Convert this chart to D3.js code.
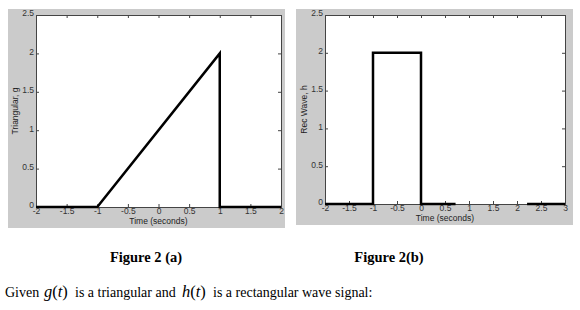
<!DOCTYPE html>
<html>
<head>
<meta charset="utf-8">
<script src="https://cdn.jsdelivr.net/npm/d3@7"></script>
<style>
  body { margin: 0; background: #fff; }
  svg { display: block; }
</style>
</head>
<body>
<svg id="fig" width="580" height="310"></svg>
<script>
// data
const triT = [-2, -1, 1, 1, 2];
const triG = [0, 0, 2, 0, 0];
const recT = [-2, -1, -1, 0, 0, 0.72];
const recH = [0, 0, 2, 2, 0, 0];
const recTailT = [2.21, 3];
const recTailH = [0, 0];
const triXTicks = [-2, -1.5, -1, -0.5, 0, 0.5, 1, 1.5, 2];
const recXTicks = [-2, -1.5, -1, -0.5, 0, 0.5, 1, 1.5, 2, 2.5, 3];
const yTicks = [0, 0.5, 1, 1.5, 2, 2.5];

const svg = d3.select("#fig");
const sans = "Liberation Sans, Arial, sans-serif";
const serif = "Liberation Serif, Times New Roman, serif";

function panel(opt) {
  const g = svg.append("g");
  // grey figure background
  g.append("rect")
    .attr("x", opt.bg[0]).attr("y", opt.bg[1])
    .attr("width", opt.bg[2] - opt.bg[0]).attr("height", opt.bg[3] - opt.bg[1])
    .attr("fill", "#cbcbcb");

  const x = d3.scaleLinear().domain(opt.xDomain).range([opt.left, opt.right]);
  const y = d3.scaleLinear().domain([0, 2.5]).range([opt.bottom, opt.top]);

  g.append("rect")
    .attr("x", opt.left).attr("y", opt.top)
    .attr("width", opt.right - opt.left).attr("height", opt.bottom - opt.top)
    .attr("fill", "#fff");

  // matlab style labels use a plain hyphen
  const fmt = d => String(d);

  const axB = g.append("g").attr("transform", `translate(0,${opt.bottom})`)
    .call(d3.axisBottom(x).tickValues(opt.xTicks).tickSize(-3).tickPadding(1).tickFormat(fmt));
  const axT = g.append("g").attr("transform", `translate(0,${opt.top})`)
    .call(d3.axisTop(x).tickValues(opt.xTicks).tickSize(-3).tickFormat(""));
  const axL = g.append("g").attr("transform", `translate(${opt.left},0)`)
    .call(d3.axisLeft(y).tickValues(yTicks).tickSize(-3).tickPadding(2).tickFormat(fmt));
  const axR = g.append("g").attr("transform", `translate(${opt.right},0)`)
    .call(d3.axisRight(y).tickValues(yTicks).tickSize(-3).tickFormat(""));

  [axB, axT, axL, axR].forEach(a => {
    a.select(".domain").attr("stroke", "#444").attr("stroke-width", 1);
    a.selectAll(".tick line").attr("stroke", "#444");
    a.selectAll("text")
      .attr("fill", "#333")
      .style("font-family", sans)
      .style("font-size", "8.5px");
  });
  axB.selectAll("text").attr("dy", "0.75em");
  axL.selectAll("text").attr("dy", "0.1em");

  const line = d3.line().x(d => x(d[0])).y(d => y(d[1]));
  opt.series.forEach(s => {
    g.append("path")
      .datum(d3.zip(s[0], s[1]))
      .attr("d", line)
      .attr("fill", "none")
      .attr("stroke", "#000")
      .attr("stroke-width", 2.5)
      .attr("stroke-linejoin", "miter");
  });

  g.append("text")
    .attr("x", (opt.left + opt.right) / 2).attr("y", opt.bottom + 17)
    .attr("text-anchor", "middle")
    .style("font-family", sans)
    .style("font-size", "8.5px").attr("fill", "#222")
    .text("Time (seconds)");

  g.append("text")
    .attr("transform", `translate(${opt.yLabelX},${(opt.top + opt.bottom) / 2}) rotate(-90)`)
    .attr("text-anchor", "middle")
    .style("font-family", sans)
    .style("font-size", "8.5px").attr("fill", "#222")
    .text(opt.yLabel);

  svg.append("text")
    .attr("x", opt.capX).attr("y", 262)
    .attr("text-anchor", "middle")
    .style("font-family", serif)
    .style("font-weight", "bold").style("font-size", "14.5px")
    .text(opt.caption);
}

panel({
  bg: [8, 9, 285, 228], left: 36, right: 281, top: 15, bottom: 207,
  xDomain: [-2, 2], xTicks: triXTicks,
  series: [[triT, triG]],
  yLabel: "Triangular, g", yLabelX: 18,
  caption: "Figure 2 (a)", capX: 146
});

panel({
  bg: [296, 9, 573, 225], left: 325, right: 565, top: 15, bottom: 204,
  xDomain: [-2, 3], xTicks: recXTicks,
  series: [[recT, recH], [recTailT, recTailH]],
  yLabel: "Rec Wave, h", yLabelX: 307,
  caption: "Figure 2(b)", capX: 389
});

// sentence below the figures
function mathFn(parent, x, name) {
  const t = parent.append("tspan").attr("x", x).style("font-size", "16.5px");
  t.append("tspan").style("font-style", "italic").text(name);
  t.append("tspan").text("(");
  t.append("tspan").style("font-style", "italic").text("t");
  t.append("tspan").text(")");
}
const sentence = svg.append("text")
  .attr("y", 297)
  .style("font-family", serif).style("font-size", "14px");
sentence.append("tspan").attr("x", 5).text("Given");
mathFn(sentence, 44, "g");
sentence.append("tspan").attr("x", 75).text("is a triangular and");
mathFn(sentence, 182, "h");
sentence.append("tspan").attr("x", 213).text("is a rectangular wave signal:");
</script>
</body>
</html>
